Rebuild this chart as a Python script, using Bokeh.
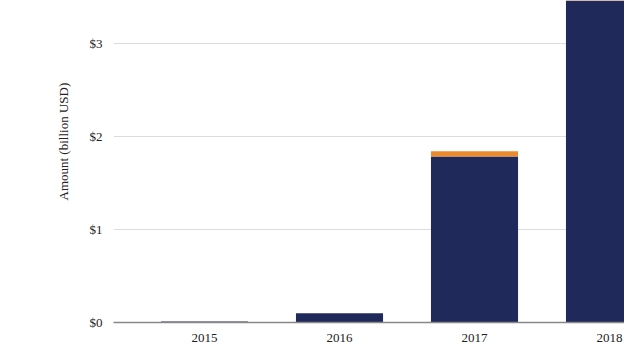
from bokeh.plotting import figure
from bokeh.models import Range1d, FixedTicker, Title
from bokeh.embed import file_html
from bokeh.resources import INLINE

years = ["2015", "2016", "2017", "2018"]
navy_vals = [0.01, 0.10, 1.785, 3.70]
orange_vals = [0.0, 0.0, 0.055, 0.0]
y_ticks = [0, 1, 2, 3]
y_tick_labels = ["$0", "$1", "$2", "$3"]

NAVY = "#1f2a5a"
ORANGE = "#ee8a2e"
FONT = "Liberation Serif"
TXT = "#222222"

xs = [i + 0.5 for i in range(len(years))]
tops = [n + o for n, o in zip(navy_vals, orange_vals)]

p = figure(width=624, height=344, output_backend="svg", toolbar_location=None,
           x_range=Range1d(-0.174, 3.611), y_range=Range1d(0, 3.462),
           min_border_left=113, min_border_right=0, min_border_top=0, min_border_bottom=22)
p.outline_line_color = None
p.background_fill_color = "white"
p.border_fill_color = "white"

p.vbar(x=xs, bottom=0, top=navy_vals, width=0.645, fill_color=NAVY, line_color=None)
p.vbar(x=xs, bottom=navy_vals, top=tops, width=0.645, fill_color=ORANGE, line_color=None)

p.xgrid.grid_line_color = None
p.ygrid.grid_line_color = "#dcdcdc"
p.ygrid.grid_line_width = 1
p.ygrid.ticker = FixedTicker(ticks=y_ticks)

p.yaxis.ticker = FixedTicker(ticks=y_ticks)
p.yaxis.major_label_overrides = {t: l for t, l in zip(y_ticks, y_tick_labels)}
p.yaxis.axis_line_color = None
p.yaxis.major_tick_line_color = None
p.yaxis.minor_tick_line_color = None
p.yaxis.major_label_standoff = 5
p.yaxis.major_label_text_font = FONT
p.yaxis.major_label_text_font_size = "13px"
p.yaxis.major_label_text_color = TXT

p.xaxis.ticker = FixedTicker(ticks=xs)
p.xaxis.major_label_overrides = {x: y for x, y in zip(xs, years)}
p.xaxis.axis_line_color = "#888888"
p.xaxis.axis_line_width = 1.5
p.xaxis.major_tick_line_color = None
p.xaxis.minor_tick_line_color = None
p.xaxis.major_label_standoff = 5
p.xaxis.major_label_text_font = FONT
p.xaxis.major_label_text_font_size = "13px"
p.xaxis.major_label_text_color = TXT

ylabel = Title(text="Amount (billion USD)", align="left", offset=122, standoff=31,
               text_font=FONT, text_font_size="13px", text_font_style="normal",
               text_color=TXT)
p.add_layout(ylabel, "left")

open("out.html", "w").write(file_html(p, INLINE))
